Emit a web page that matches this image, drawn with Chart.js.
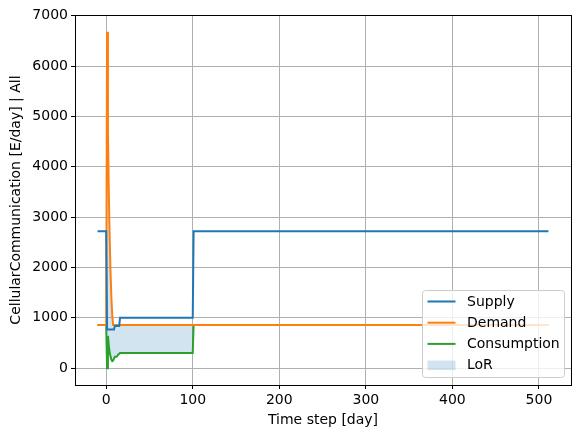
<!DOCTYPE html>
<html>
<head>
<meta charset="utf-8">
<script src="https://cdn.jsdelivr.net/npm/chart.js@4.4.1/dist/chart.umd.min.js"></script>
<style>
  html, body { margin: 0; padding: 0; background: #fff; }
  #wrap { width: 580px; height: 437px; }
</style>
</head>
<body>
<div id="wrap"><canvas id="myChart" width="580" height="437"></canvas></div>
<script>
// data (breakpoints, values in E/day)
const supplyDays = [-10, 0, 1, 9, 10, 15, 16, 100, 101, 511];
const supplyValues = [2720, 2720, 770, 770, 840, 840, 1000, 1000, 2720, 2720];

const days = [-10, 0, 1, 2, 3, 4, 5, 6, 7, 8, 10, 12, 14, 16, 100, 101, 511];
const demandValues = [860, 860, 6680, 4700, 3500, 2600, 1900, 1400, 1050, 860, 860, 860, 860, 860, 860, 860, 860];
const consumptionValues = [860, 860, 0, 640, 450, 320, 230, 170, 140, 150, 225, 225, 275, 300, 300, 860, 860];

const xTickValues = [0, 100, 200, 300, 400, 500];
const yTickValues = [0, 1000, 2000, 3000, 4000, 5000, 6000, 7000];

const seriesNames = ['Supply', 'Demand', 'Consumption', 'LoR'];
const colors = ['#1f77b4', '#ff7f0e', '#2ca02c', 'rgba(31,119,180,0.2)'];

const FONT = 'DejaVu Sans';
const FS = 14;

function pts(xs, ys) {
    return xs.map((x, i) => ({ x: x, y: ys[i] }));
}

// frame (all four spines) like matplotlib
const framePlugin = {
    id: 'frame',
    afterDatasetsDraw(chart) {
        const { ctx, chartArea: a } = chart;
        ctx.save();
        ctx.strokeStyle = '#000';
        ctx.lineWidth = 1;
        ctx.strokeRect(Math.round(a.left) + 0.5, Math.round(a.top) + 0.5,
            Math.round(a.right - a.left), Math.round(a.bottom - a.top));
        ctx.restore();
    }
};

// legend inside the axes, lower right
const legendPlugin = {
    id: 'innerLegend',
    afterDraw(chart) {
        const { ctx, chartArea: a } = chart;
        const w = 142, h = 87, r = 3;
        const x0 = a.right - 7 - w, y0 = a.bottom - 8 - h;
        ctx.save();
        ctx.beginPath();
        ctx.roundRect(x0 + 0.5, y0 + 0.5, w, h, r);
        ctx.fillStyle = 'rgba(255,255,255,0.8)';
        ctx.fill();
        ctx.strokeStyle = '#cccccc';
        ctx.lineWidth = 1;
        ctx.stroke();

        ctx.font = FS + 'px "' + FONT + '"';
        ctx.textBaseline = 'middle';
        ctx.textAlign = 'left';
        seriesNames.forEach((name, i) => {
            const y = y0 + 11.5 + i * 21.2;
            if (i < 3) {
                ctx.strokeStyle = colors[i];
                ctx.lineWidth = 2;
                ctx.beginPath();
                ctx.moveTo(x0 + 5.5, y);
                ctx.lineTo(x0 + 33.5, y);
                ctx.stroke();
            } else {
                ctx.fillStyle = colors[i];
                ctx.fillRect(x0 + 5.5, y - 4.5, 28, 9.5);
            }
            ctx.fillStyle = '#000';
            ctx.fillText(name, x0 + 45, y + 0.5);
        });
        ctx.restore();
    }
};

const chart = new Chart(document.getElementById('myChart'), {
    type: 'line',
    data: {
        datasets: [
            {
                label: seriesNames[0],
                data: pts(supplyDays, supplyValues),
                borderColor: colors[0],
                borderWidth: 2,
                pointRadius: 0,
                fill: false
            },
            {
                label: seriesNames[1],
                data: pts(days, demandValues),
                borderColor: colors[1],
                borderWidth: 2,
                pointRadius: 0,
                fill: false
            },
            {
                label: seriesNames[2],
                data: pts(days, consumptionValues),
                borderColor: colors[2],
                borderWidth: 2,
                pointRadius: 0,
                fill: false
            },
            {
                // LoR: area between demand and consumption
                label: seriesNames[3],
                data: pts(days, consumptionValues),
                borderWidth: 0,
                borderColor: 'rgba(0,0,0,0)',
                backgroundColor: colors[3],
                pointRadius: 0,
                fill: 1
            }
        ]
    },
    options: {
        responsive: false,
        animation: false,
        devicePixelRatio: 1,
        events: [],
        layout: { padding: { left: 0, right: 9, top: 15, bottom: 0 } },
        plugins: {
            legend: { display: false },
            tooltip: { enabled: false }
        },
        scales: {
            x: {
                type: 'linear',
                min: -36.05,
                max: 537.05,
                afterBuildTicks: s => { s.ticks = xTickValues.map(v => ({ value: v })); },
                afterFit: s => { s.height = 52; },
                grid: { color: '#b0b0b0', lineWidth: 1, tickColor: '#000', tickLength: 4, tickWidth: 1 },
                border: { display: false },
                ticks: { color: '#000', font: { family: FONT, size: FS }, padding: 3, maxRotation: 0,
                    callback: v => String(v) },
                title: { display: true, text: 'Time step [day]', color: '#000',
                    font: { family: FONT, size: FS }, padding: { top: 0, bottom: 8 } }
            },
            y: {
                type: 'linear',
                min: -334,
                max: 7014,
                afterBuildTicks: s => { s.ticks = yTickValues.map(v => ({ value: v })); },
                afterFit: s => { s.width = 75; },
                grid: { color: '#b0b0b0', lineWidth: 1, tickColor: '#000', tickLength: 4, tickWidth: 1 },
                border: { display: false },
                ticks: { color: '#000', font: { family: FONT, size: FS }, padding: 3,
                    callback: v => String(v) },
                title: { display: true, text: 'CellularCommunication [E/day] | All', color: '#000',
                    font: { family: FONT, size: FS }, padding: { top: 8, bottom: 0 } }
            }
        }
    },
    plugins: [framePlugin, legendPlugin]
});
</script>
</body>
</html>
